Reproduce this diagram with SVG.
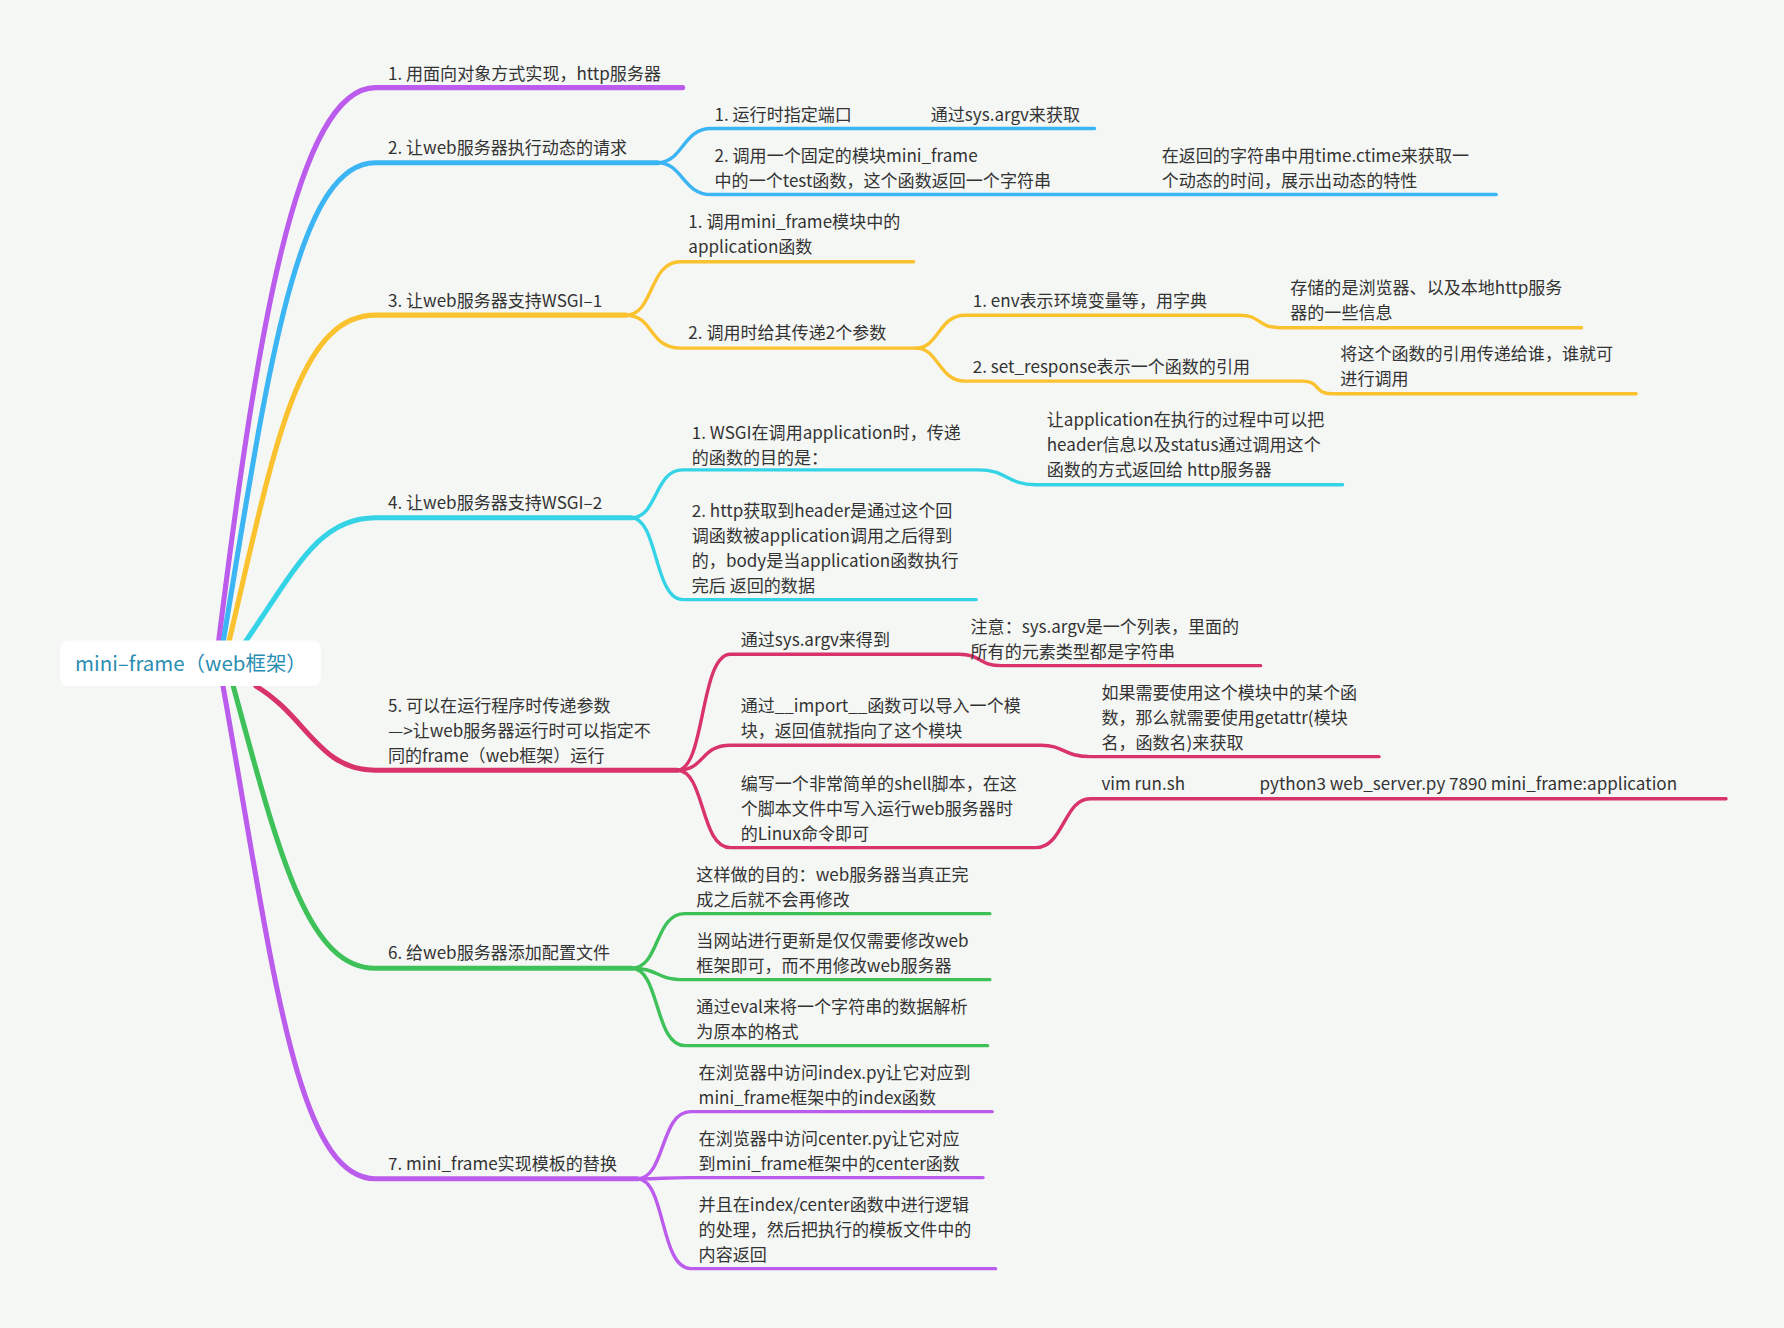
<svg xmlns="http://www.w3.org/2000/svg" width="1784" height="1328" viewBox="0 0 1784 1328">
<style>
text{font-family:"Noto Sans CJK SC","Noto Sans",sans-serif;font-size:15px;fill:#333}
.c{fill:none;stroke-linecap:round}
.m{stroke-width:4.5}
.s{stroke-width:3}
.p{stroke:#bb5ced}.b{stroke:#3bb5f3}.y{stroke:#fbc22f}.t{stroke:#35d3e6}.r{stroke:#d8336a}.g{stroke:#3fc15a}
</style>
<rect width="1784" height="1328" fill="#f5f7f5"/>
<g transform="scale(1.1378)">
<g id="connectors">
<path class="c m p" d="M192,565 C225,300 260,77 330,77 L600,77"/>
<path class="c m b" d="M196,565 C235,330 260,143 330,143 L578,143"/>
<path class="c s b" d="M578,143 C600,143 600,113 625,113 L962,113"/>
<path class="c s b" d="M578,143 C600,143 600,171 625,171 L1315,171"/>
<path class="c m y" d="M201,565 C240,400 260,277 330,277 L550,277"/>
<path class="c s y" d="M550,277 C575,277 570,230 598,230 L803,230"/>
<path class="c s y" d="M550,277 C575,277 570,306 598,306 L805,306"/>
<path class="c s y" d="M805,306 C825,306 825,277 848,277 L1090,277 C1108,277 1105,288 1125,288 L1390,288"/>
<path class="c s y" d="M805,306 C825,306 825,335 848,335 L1145,335 C1160,335 1155,346 1170,346 L1438,346"/>
<path class="c m t" d="M215,565 C260,500 280,455 330,455 L555,455"/>
<path class="c s t" d="M555,455 C578,455 575,413 600,413 L860,413 C885,413 885,426 910,426 L1180,426"/>
<path class="c s t" d="M555,455 C578,455 575,527 600,527 L858,527"/>
<path class="c m r" d="M225,603 C270,630 280,677 330,677 L595,677"/>
<path class="c s r" d="M595,677 C620,677 615,575 642,575 L843,575 C862,575 860,585 880,585 L1108,585"/>
<path class="c s r" d="M595,677 C620,677 615,655 642,655 L915,655 C935,655 935,665 958,665 L1212,665"/>
<path class="c s r" d="M595,677 C620,677 615,745 642,745 L910,745 C935,745 935,702 958,702 L1517,702"/>
<path class="c m g" d="M205,603 C245,750 270,851 330,851 L555,851"/>
<path class="c s g" d="M555,851 C580,851 575,803 602,803 L870,803"/>
<path class="c s g" d="M555,851 C580,851 575,861 602,861 L870,861"/>
<path class="c s g" d="M555,851 C580,851 575,919 602,919 L868,919"/>
<path class="c m p" d="M196,603 C240,850 260,1036 330,1036 L560,1036"/>
<path class="c s p" d="M560,1036 C585,1036 580,977 607,977 L872,977"/>
<path class="c s p" d="M560,1036 C585,1036 580,1035 607,1035 L864,1035"/>
<path class="c s p" d="M560,1036 C585,1036 580,1115 607,1115 L875,1115"/>
</g>
<g id="root"><rect x="53" y="563" width="229" height="40" rx="7" fill="#fff"/><text x="66" y="590" style="font-size:18px;fill:#2a8db2">mini–frame（web框架）</text></g>
<g id="n1"><text x="341" y="70">1. 用面向对象方式实现，http服务器</text></g>
<g id="n2"><text x="341" y="135">2. 让web服务器执行动态的请求</text>
<text x="628" y="106">1. 运行时指定端口</text><text x="818" y="106">通过sys.argv来获取</text>
<text x="628" y="142">2. 调用一个固定的模块mini_frame</text><text x="628" y="164">中的一个test函数，这个函数返回一个字符串</text>
<text x="1021" y="142">在返回的字符串中用time.ctime来获取一</text><text x="1021" y="164">个动态的时间，展示出动态的特性</text></g>
<g id="n3"><text x="341" y="270">3. 让web服务器支持WSGI–1</text>
<text x="605" y="200">1. 调用mini_frame模块中的</text><text x="605" y="222">application函数</text>
<text x="605" y="298">2. 调用时给其传递2个参数</text>
<text x="855" y="270">1. env表示环境变量等，用字典</text>
<text x="1134" y="258">存储的是浏览器、以及本地http服务</text><text x="1134" y="280">器的一些信息</text>
<text x="855" y="328">2. set_response表示一个函数的引用</text>
<text x="1178" y="316">将这个函数的引用传递给谁，谁就可</text><text x="1178" y="338">进行调用</text></g>
<g id="n4"><text x="341" y="447">4. 让web服务器支持WSGI–2</text>
<text x="608" y="386">1. WSGI在调用application时，传递</text><text x="608" y="408">的函数的目的是：</text>
<text x="920" y="374">让application在执行的过程中可以把</text><text x="920" y="396">header信息以及status通过调用这个</text><text x="920" y="418">函数的方式返回给 http服务器</text>
<text x="608" y="454">2. http获取到header是通过这个回</text><text x="608" y="476">调函数被application调用之后得到</text><text x="608" y="498">的，body是当application函数执行</text><text x="608" y="520">完后 返回的数据</text></g>
<g id="n5"><text x="341" y="626">5. 可以在运行程序时传递参数</text><text x="341" y="648">—&gt;让web服务器运行时可以指定不</text><text x="341" y="670">同的frame（web框架）运行</text>
<text x="651" y="568">通过sys.argv来得到</text>
<text x="853" y="556">注意：sys.argv是一个列表，里面的</text><text x="853" y="578">所有的元素类型都是字符串</text>
<text x="651" y="626">通过__import__函数可以导入一个模</text><text x="651" y="648">块，返回值就指向了这个模块</text>
<text x="968" y="614">如果需要使用这个模块中的某个函</text><text x="968" y="636">数，那么就需要使用getattr(模块</text><text x="968" y="658">名，函数名)来获取</text>
<text x="651" y="694">编写一个非常简单的shell脚本，在这</text><text x="651" y="716">个脚本文件中写入运行web服务器时</text><text x="651" y="738">的Linux命令即可</text>
<text x="968" y="694">vim run.sh</text><text x="1107" y="694">python3 web_server.py 7890 mini_frame:application</text></g>
<g id="n6"><text x="341" y="843">6. 给web服务器添加配置文件</text>
<text x="612" y="774">这样做的目的：web服务器当真正完</text><text x="612" y="796">成之后就不会再修改</text>
<text x="612" y="832">当网站进行更新是仅仅需要修改web</text><text x="612" y="854">框架即可，而不用修改web服务器</text>
<text x="612" y="890">通过eval来将一个字符串的数据解析</text><text x="612" y="912">为原本的格式</text></g>
<g id="n7"><text x="341" y="1028">7. mini_frame实现模板的替换</text>
<text x="614" y="948">在浏览器中访问index.py让它对应到</text><text x="614" y="970">mini_frame框架中的index函数</text>
<text x="614" y="1006">在浏览器中访问center.py让它对应</text><text x="614" y="1028">到mini_frame框架中的center函数</text>
<text x="614" y="1064">并且在index/center函数中进行逻辑</text><text x="614" y="1086">的处理，然后把执行的模板文件中的</text><text x="614" y="1108">内容返回</text></g>
</g>
</svg>
